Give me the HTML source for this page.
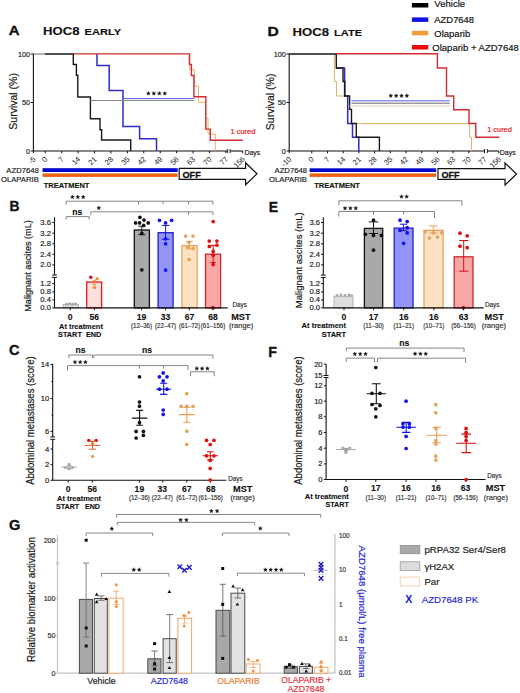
<!DOCTYPE html>
<html><head><meta charset="utf-8"><style>
html,body{margin:0;padding:0;background:#fff;}
svg{display:block;font-family:"Liberation Sans",sans-serif;}
</style></head><body>
<svg width="520" height="693" viewBox="0 0 520 693">
<rect width="520" height="693" fill="#fff"/>
<text x="8.8" y="35.2" font-size="13.4" text-anchor="start" font-weight="bold" textLength="10.8" lengthAdjust="spacingAndGlyphs" fill="#111" stroke="#111" stroke-width="0.35">A</text>
<text x="43" y="35.3" font-size="11.6" text-anchor="start" font-weight="bold" textLength="36.5" lengthAdjust="spacingAndGlyphs" fill="#111"  stroke="#111" stroke-width="0.12">HOC8</text>
<text x="84.5" y="35.3" font-size="9.2" text-anchor="start" font-weight="bold" textLength="36.7" lengthAdjust="spacingAndGlyphs" fill="#111"  stroke="#111" stroke-width="0.12">EARLY</text>
<line x1="33.4" y1="53.6" x2="33.4" y2="151" stroke="#111" stroke-width="1.1"/>
<line x1="30.799999999999997" y1="54" x2="33.4" y2="54" stroke="#111" stroke-width="1"/>
<text x="30.0" y="56.5" font-size="7.2" text-anchor="end" fill="#222"  stroke="#222" stroke-width="0.18">100</text>
<line x1="30.799999999999997" y1="102.5" x2="33.4" y2="102.5" stroke="#111" stroke-width="1"/>
<text x="30.0" y="105.0" font-size="7.2" text-anchor="end" fill="#222"  stroke="#222" stroke-width="0.18">50</text>
<line x1="30.799999999999997" y1="151" x2="33.4" y2="151" stroke="#111" stroke-width="1"/>
<text x="30.0" y="153.5" font-size="7.2" text-anchor="end" fill="#222"  stroke="#222" stroke-width="0.18">0</text>
<line x1="33.4" y1="151" x2="227.7" y2="151" stroke="#111" stroke-width="1.1"/>
<line x1="230.2" y1="151" x2="242.8" y2="151" stroke="#111" stroke-width="1.1"/>
<line x1="227.7" y1="149" x2="227.7" y2="153" stroke="#111" stroke-width="0.9"/>
<line x1="230.2" y1="149" x2="230.2" y2="153" stroke="#111" stroke-width="0.9"/>
<line x1="33.4" y1="151" x2="33.4" y2="153.3" stroke="#111" stroke-width="1"/>
<text font-size="7.5" fill="#222" text-anchor="end" transform="translate(36.1,159.7) rotate(-45)">-5</text>
<line x1="45.3" y1="151" x2="45.3" y2="153.3" stroke="#111" stroke-width="1"/>
<text font-size="7.5" fill="#222" text-anchor="end" transform="translate(48.0,159.7) rotate(-45)">0</text>
<line x1="61.715" y1="151" x2="61.715" y2="153.3" stroke="#111" stroke-width="1"/>
<text font-size="7.5" fill="#222" text-anchor="end" transform="translate(64.4,159.7) rotate(-45)">7</text>
<line x1="78.13" y1="151" x2="78.13" y2="153.3" stroke="#111" stroke-width="1"/>
<text font-size="7.5" fill="#222" text-anchor="end" transform="translate(80.8,159.7) rotate(-45)">14</text>
<line x1="94.545" y1="151" x2="94.545" y2="153.3" stroke="#111" stroke-width="1"/>
<text font-size="7.5" fill="#222" text-anchor="end" transform="translate(97.2,159.7) rotate(-45)">21</text>
<line x1="110.96000000000001" y1="151" x2="110.96000000000001" y2="153.3" stroke="#111" stroke-width="1"/>
<text font-size="7.5" fill="#222" text-anchor="end" transform="translate(113.7,159.7) rotate(-45)">28</text>
<line x1="127.375" y1="151" x2="127.375" y2="153.3" stroke="#111" stroke-width="1"/>
<text font-size="7.5" fill="#222" text-anchor="end" transform="translate(130.1,159.7) rotate(-45)">35</text>
<line x1="143.79000000000002" y1="151" x2="143.79000000000002" y2="153.3" stroke="#111" stroke-width="1"/>
<text font-size="7.5" fill="#222" text-anchor="end" transform="translate(146.5,159.7) rotate(-45)">42</text>
<line x1="160.205" y1="151" x2="160.205" y2="153.3" stroke="#111" stroke-width="1"/>
<text font-size="7.5" fill="#222" text-anchor="end" transform="translate(162.9,159.7) rotate(-45)">49</text>
<line x1="176.62" y1="151" x2="176.62" y2="153.3" stroke="#111" stroke-width="1"/>
<text font-size="7.5" fill="#222" text-anchor="end" transform="translate(179.3,159.7) rotate(-45)">56</text>
<line x1="193.03500000000003" y1="151" x2="193.03500000000003" y2="153.3" stroke="#111" stroke-width="1"/>
<text font-size="7.5" fill="#222" text-anchor="end" transform="translate(195.7,159.7) rotate(-45)">63</text>
<line x1="209.45" y1="151" x2="209.45" y2="153.3" stroke="#111" stroke-width="1"/>
<text font-size="7.5" fill="#222" text-anchor="end" transform="translate(212.1,159.7) rotate(-45)">70</text>
<line x1="225.865" y1="151" x2="225.865" y2="153.3" stroke="#111" stroke-width="1"/>
<text font-size="7.5" fill="#222" text-anchor="end" transform="translate(228.6,159.7) rotate(-45)">77</text>
<line x1="242.8" y1="151" x2="242.8" y2="153.3" stroke="#111" stroke-width="1"/>
<text font-size="7.5" fill="#222" text-anchor="end" transform="translate(245.5,159.7) rotate(-45)">156</text>
<text x="244.4" y="154.8" font-size="7" text-anchor="start" fill="#222"  stroke="#222" stroke-width="0.18">Days</text>
<text font-size="10.5" fill="#1a1a1a" stroke="#1a1a1a" stroke-width="0.2" text-anchor="middle" transform="translate(17.4,101.4) rotate(-90)">Survival (%)</text>
<path d="M33.4,54 H45" stroke="#8a8a8a" stroke-width="1.3" fill="none" />
<path d="M45,54 H73.3 V64.5 H76.4 V75.3 H77.8 V97 H90.4 V118.8 H100 V129.7 H101.6 V140 H130.7 V151" stroke="#1a1a1a" stroke-width="1.4" fill="none" />
<path d="M97,54 V65.4 H109.2 V90.5 H123 V126.5 H139.6 V138.8 H156.5 V151" stroke="#2c2cc8" stroke-width="1.5" fill="none" />
<path d="M90.4,100.5 H194.5" stroke="#8a8a8a" stroke-width="1" fill="none" />
<path d="M123.5,98.6 H194.5" stroke="#5a5af0" stroke-width="1" fill="none" />
<path d="M189.8,54 V69.7 H194.4 V86 H198.5 V102.3 H205.5 V118.2 H208 V134 H215.2 V151" stroke="#e2b066" stroke-width="1" fill="none" />
<path d="M73.3,53.9 H189.4 V64.4 H191.4 V75.5 H193.9 V96.7 H205.8 V129.1 H210.3 V140.3 H242.8" stroke="#d42a32" stroke-width="1.4" fill="none" />
<polygon points="148.39,91.40 148.95,92.68 150.34,92.82 149.30,93.74 149.60,95.11 148.39,94.40 147.19,95.11 147.49,93.74 146.45,92.82 147.84,92.68" fill="#151515" stroke="#151515" stroke-width="0.35" stroke-linejoin="round"/>
<polygon points="153.86,91.40 154.42,92.68 155.81,92.82 154.77,93.74 155.07,95.11 153.86,94.40 152.66,95.11 152.96,93.74 151.92,92.82 153.31,92.68" fill="#151515" stroke="#151515" stroke-width="0.35" stroke-linejoin="round"/>
<polygon points="159.33,91.40 159.89,92.68 161.28,92.82 160.24,93.74 160.54,95.11 159.33,94.40 158.13,95.11 158.43,93.74 157.39,92.82 158.78,92.68" fill="#151515" stroke="#151515" stroke-width="0.35" stroke-linejoin="round"/>
<polygon points="164.80,91.40 165.36,92.68 166.75,92.82 165.71,93.74 166.01,95.11 164.80,94.40 163.60,95.11 163.90,93.74 162.86,92.82 164.25,92.68" fill="#151515" stroke="#151515" stroke-width="0.35" stroke-linejoin="round"/>
<text x="230.4" y="133.8" font-size="7.5" text-anchor="start" fill="#e81818"  stroke="#e81818" stroke-width="0.18">1 cured</text>
<rect x="42.5" y="168.2" width="135.2" height="3.8" fill="#0505cc"/>
<rect x="42.5" y="173.4" width="135.2" height="3.5" fill="#e8620f"/>
<text x="38.8" y="173.3" font-size="7.7" text-anchor="end" fill="#222"  stroke="#222" stroke-width="0.18">AZD7648</text>
<text x="38.8" y="181.5" font-size="7.7" text-anchor="end" fill="#222"  stroke="#222" stroke-width="0.18">OLAPARIB</text>
<text x="43.7" y="188.3" font-size="7.5" text-anchor="start" font-weight="bold" fill="#111"  stroke="#111" stroke-width="0.12">TREATMENT</text>
<path d="M179.2,168.4 H245.6 V162.7 L257,173.8 L245.6,184.8 V179.4 H179.2 Z" stroke="#111" stroke-width="1.2" fill="#fff" />
<text x="182.4" y="178.4" font-size="9.9" text-anchor="start" font-weight="bold" textLength="18.4" lengthAdjust="spacingAndGlyphs" fill="#111" stroke="#111" stroke-width="0.3">OFF</text>
<text x="267.4" y="35.9" font-size="13.4" text-anchor="start" font-weight="bold" textLength="11.3" lengthAdjust="spacingAndGlyphs" fill="#111" stroke="#111" stroke-width="0.35">D</text>
<text x="292.5" y="35.9" font-size="11.6" text-anchor="start" font-weight="bold" textLength="36.5" lengthAdjust="spacingAndGlyphs" fill="#111"  stroke="#111" stroke-width="0.12">HOC8</text>
<text x="334" y="35.9" font-size="9.2" text-anchor="start" font-weight="bold" textLength="28" lengthAdjust="spacingAndGlyphs" fill="#111"  stroke="#111" stroke-width="0.12">LATE</text>
<line x1="289.2" y1="53.6" x2="289.2" y2="151" stroke="#111" stroke-width="1.1"/>
<line x1="286.59999999999997" y1="54" x2="289.2" y2="54" stroke="#111" stroke-width="1"/>
<text x="285.8" y="56.5" font-size="7.2" text-anchor="end" fill="#222"  stroke="#222" stroke-width="0.18">100</text>
<line x1="286.59999999999997" y1="102.5" x2="289.2" y2="102.5" stroke="#111" stroke-width="1"/>
<text x="285.8" y="105.0" font-size="7.2" text-anchor="end" fill="#222"  stroke="#222" stroke-width="0.18">50</text>
<line x1="286.59999999999997" y1="151" x2="289.2" y2="151" stroke="#111" stroke-width="1"/>
<text x="285.8" y="153.5" font-size="7.2" text-anchor="end" fill="#222"  stroke="#222" stroke-width="0.18">0</text>
<line x1="289.2" y1="151" x2="484.5" y2="151" stroke="#111" stroke-width="1.1"/>
<line x1="487.3" y1="151" x2="498.8" y2="151" stroke="#111" stroke-width="1.1"/>
<line x1="484.5" y1="149" x2="484.5" y2="153" stroke="#111" stroke-width="0.9"/>
<line x1="487.3" y1="149" x2="487.3" y2="153" stroke="#111" stroke-width="0.9"/>
<line x1="289.2" y1="151" x2="289.2" y2="153.3" stroke="#111" stroke-width="1"/>
<text font-size="7.5" fill="#222" text-anchor="end" transform="translate(291.9,159.7) rotate(-45)">-10</text>
<line x1="311.8" y1="151" x2="311.8" y2="153.3" stroke="#111" stroke-width="1"/>
<text font-size="7.5" fill="#222" text-anchor="end" transform="translate(314.5,159.7) rotate(-45)">0</text>
<line x1="327.50100000000003" y1="151" x2="327.50100000000003" y2="153.3" stroke="#111" stroke-width="1"/>
<text font-size="7.5" fill="#222" text-anchor="end" transform="translate(330.2,159.7) rotate(-45)">7</text>
<line x1="343.202" y1="151" x2="343.202" y2="153.3" stroke="#111" stroke-width="1"/>
<text font-size="7.5" fill="#222" text-anchor="end" transform="translate(345.9,159.7) rotate(-45)">14</text>
<line x1="358.903" y1="151" x2="358.903" y2="153.3" stroke="#111" stroke-width="1"/>
<text font-size="7.5" fill="#222" text-anchor="end" transform="translate(361.6,159.7) rotate(-45)">21</text>
<line x1="374.604" y1="151" x2="374.604" y2="153.3" stroke="#111" stroke-width="1"/>
<text font-size="7.5" fill="#222" text-anchor="end" transform="translate(377.3,159.7) rotate(-45)">28</text>
<line x1="390.305" y1="151" x2="390.305" y2="153.3" stroke="#111" stroke-width="1"/>
<text font-size="7.5" fill="#222" text-anchor="end" transform="translate(393.0,159.7) rotate(-45)">35</text>
<line x1="406.006" y1="151" x2="406.006" y2="153.3" stroke="#111" stroke-width="1"/>
<text font-size="7.5" fill="#222" text-anchor="end" transform="translate(408.7,159.7) rotate(-45)">42</text>
<line x1="421.707" y1="151" x2="421.707" y2="153.3" stroke="#111" stroke-width="1"/>
<text font-size="7.5" fill="#222" text-anchor="end" transform="translate(424.4,159.7) rotate(-45)">49</text>
<line x1="437.408" y1="151" x2="437.408" y2="153.3" stroke="#111" stroke-width="1"/>
<text font-size="7.5" fill="#222" text-anchor="end" transform="translate(440.1,159.7) rotate(-45)">56</text>
<line x1="453.10900000000004" y1="151" x2="453.10900000000004" y2="153.3" stroke="#111" stroke-width="1"/>
<text font-size="7.5" fill="#222" text-anchor="end" transform="translate(455.8,159.7) rotate(-45)">63</text>
<line x1="468.81" y1="151" x2="468.81" y2="153.3" stroke="#111" stroke-width="1"/>
<text font-size="7.5" fill="#222" text-anchor="end" transform="translate(471.5,159.7) rotate(-45)">70</text>
<line x1="484.51099999999997" y1="151" x2="484.51099999999997" y2="153.3" stroke="#111" stroke-width="1"/>
<text font-size="7.5" fill="#222" text-anchor="end" transform="translate(487.2,159.7) rotate(-45)">77</text>
<line x1="498.8" y1="151" x2="498.8" y2="153.3" stroke="#111" stroke-width="1"/>
<text font-size="7.5" fill="#222" text-anchor="end" transform="translate(501.5,159.7) rotate(-45)">156</text>
<text x="499.8" y="154.8" font-size="7" text-anchor="start" fill="#222"  stroke="#222" stroke-width="0.18">Days</text>
<text font-size="10.5" fill="#1a1a1a" stroke="#1a1a1a" stroke-width="0.2" text-anchor="middle" transform="translate(274.4,101.9) rotate(-90)">Survival (%)</text>
<rect x="411.9" y="3.0" width="16.4" height="4.5" fill="#000"/>
<rect x="411.9" y="17.400000000000002" width="16.4" height="4.5" fill="#1212e6"/>
<rect x="411.9" y="30.8" width="16.4" height="4.5" fill="#f39a3c"/>
<rect x="411.9" y="45.0" width="16.4" height="4.5" fill="#ec0a0a"/>
<text x="434.3" y="7.0" font-size="9.5" text-anchor="start" textLength="30.8" lengthAdjust="spacingAndGlyphs" fill="#111"  stroke="#111" stroke-width="0.18">Vehicle</text>
<text x="434.3" y="22.8" font-size="9.5" text-anchor="start" textLength="39.8" lengthAdjust="spacingAndGlyphs" fill="#111"  stroke="#111" stroke-width="0.18">AZD7648</text>
<text x="434.3" y="36.6" font-size="9.5" text-anchor="start" fill="#111"  stroke="#111" stroke-width="0.18">Olaparib</text>
<text x="432.3" y="50.6" font-size="9.5" text-anchor="start" textLength="86.5" lengthAdjust="spacingAndGlyphs" fill="#111"  stroke="#111" stroke-width="0.18">Olaparib + AZD7648</text>
<path d="M334.4,54 V81.5 H336.5 V96 H347.5 V123.5 H469.6 V137.3 H471.5 V151" stroke="#e2b066" stroke-width="1" fill="none" />
<path d="M336,68 H344.6 V96 H347.7 V123.5 H352.5 V137.3 H358.8 V151" stroke="#2c2cc8" stroke-width="1.5" fill="none" />
<path d="M289.2,54 H336.3 V68 H343 V81.5 H344.8 V96 H349.6 V109.4 H351.5 V123.5 H356.3 V137.3 H379.4 V151" stroke="#1a1a1a" stroke-width="1.4" fill="none" />
<path d="M351.5,100.8 H449.8" stroke="#5a5af0" stroke-width="1" fill="none" />
<path d="M351.5,103.2 H449.8" stroke="#6a6a6a" stroke-width="1" fill="none" />
<path d="M349,106 H449.8" stroke="#ecc89a" stroke-width="0.9" fill="none" />
<path d="M336.3,53.8 H437.4 V68 H446.5 V96 H453.7 V109.8 H469 V123.5 H475.8 V137.3 H499.2" stroke="#d42a32" stroke-width="1.4" fill="none" />
<polygon points="390.80,93.70 391.35,94.98 392.74,95.12 391.70,96.04 392.00,97.41 390.80,96.70 389.59,97.41 389.89,96.04 388.85,95.12 390.24,94.98" fill="#151515" stroke="#151515" stroke-width="0.35" stroke-linejoin="round"/>
<polygon points="396.17,93.70 396.72,94.98 398.11,95.12 397.07,96.04 397.37,97.41 396.17,96.70 394.96,97.41 395.26,96.04 394.22,95.12 395.61,94.98" fill="#151515" stroke="#151515" stroke-width="0.35" stroke-linejoin="round"/>
<polygon points="401.54,93.70 402.09,94.98 403.48,95.12 402.44,96.04 402.74,97.41 401.54,96.70 400.33,97.41 400.63,96.04 399.59,95.12 400.98,94.98" fill="#151515" stroke="#151515" stroke-width="0.35" stroke-linejoin="round"/>
<polygon points="406.91,93.70 407.46,94.98 408.85,95.12 407.81,96.04 408.11,97.41 406.91,96.70 405.70,97.41 406.00,96.04 404.96,95.12 406.35,94.98" fill="#151515" stroke="#151515" stroke-width="0.35" stroke-linejoin="round"/>
<text x="487.2" y="132.3" font-size="7.4" text-anchor="start" fill="#e81818"  stroke="#e81818" stroke-width="0.18">1 cured</text>
<rect x="309.6" y="168.3" width="126.6" height="3.7" fill="#0505cc"/>
<rect x="309.6" y="173.4" width="126.6" height="3.5" fill="#e8620f"/>
<text x="307" y="173" font-size="7.7" text-anchor="end" fill="#222"  stroke="#222" stroke-width="0.18">AZD7648</text>
<text x="307" y="181.6" font-size="7.7" text-anchor="end" fill="#222"  stroke="#222" stroke-width="0.18">OLAPARIB</text>
<text x="314.2" y="188" font-size="7.5" text-anchor="start" font-weight="bold" fill="#111"  stroke="#111" stroke-width="0.12">TREATMENT</text>
<path d="M438,168.6 H505 V163 L516.6,174 L505,185 V179.4 H438 Z" stroke="#111" stroke-width="1.2" fill="#fff" />
<text x="441.4" y="177.9" font-size="9.7" text-anchor="start" font-weight="bold" textLength="18.2" lengthAdjust="spacingAndGlyphs" fill="#111" stroke="#111" stroke-width="0.3">OFF</text>
<text x="9.5" y="210.6" font-size="14" text-anchor="start" font-weight="bold" textLength="10" lengthAdjust="spacingAndGlyphs" fill="#111" stroke="#111" stroke-width="0.35">B</text>
<path d="M66.2,204.7 V201.2 H212.9 V204.7 M138.5,201.2 V204.2 M163.1,201.2 V204.2 M188.6,201.2 V204.2" stroke="#777" stroke-width="0.9" fill="none" />
<polygon points="72.40,195.00 72.96,196.28 74.35,196.42 73.30,197.34 73.60,198.71 72.40,198.00 71.20,198.71 71.50,197.34 70.45,196.42 71.84,196.28" fill="#151515" stroke="#151515" stroke-width="0.35" stroke-linejoin="round"/>
<polygon points="77.80,195.00 78.36,196.28 79.75,196.42 78.70,197.34 79.00,198.71 77.80,198.00 76.60,198.71 76.90,197.34 75.85,196.42 77.24,196.28" fill="#151515" stroke="#151515" stroke-width="0.35" stroke-linejoin="round"/>
<polygon points="83.20,195.00 83.76,196.28 85.15,196.42 84.10,197.34 84.40,198.71 83.20,198.00 82.00,198.71 82.30,197.34 81.25,196.42 82.64,196.28" fill="#151515" stroke="#151515" stroke-width="0.35" stroke-linejoin="round"/>
<path d="M66.2,219.6 V216.6 H89.2 V219.6" stroke="#777" stroke-width="0.9" fill="none" />
<text x="77.2" y="214.6" font-size="8.6" text-anchor="middle" font-weight="bold" fill="#111"  stroke="#111" stroke-width="0.12">ns</text>
<path d="M90.8,215.10000000000002 V211.8 H212.9 V215.10000000000002 M188.6,211.8 V214.8" stroke="#777" stroke-width="0.9" fill="none" />
<polygon points="98.80,206.00 99.36,207.28 100.75,207.42 99.70,208.34 100.00,209.71 98.80,209.00 97.60,209.71 97.90,208.34 96.85,207.42 98.24,207.28" fill="#151515" stroke="#151515" stroke-width="0.35" stroke-linejoin="round"/>
<rect x="63.3" y="304.5" width="15.200000000000003" height="3.3999999999999773" fill="#dedede" stroke="#b5b5b5" stroke-width="1"/>
<circle cx="66.5" cy="304.3" r="1.5" fill="#a8a8a8"/>
<circle cx="69.5" cy="303.8" r="1.5" fill="#a8a8a8"/>
<circle cx="72.5" cy="304.3" r="1.5" fill="#a8a8a8"/>
<circle cx="75.5" cy="303.8" r="1.5" fill="#a8a8a8"/>
<rect x="86.7" y="282" width="14.899999999999991" height="25.899999999999977" fill="#fde0e0" stroke="#e81818" stroke-width="1.3"/>
<path d="M94.4,280.3 V284.5 M92.65,280.3 H96.15 M92.65,284.5 H96.15" stroke="#ee8833" stroke-width="0.9" fill="none" />
<circle cx="90.8" cy="277.2" r="1.8" fill="#dd1111"/>
<circle cx="97.1" cy="278.8" r="1.7" fill="#ee8d3a"/>
<circle cx="94.4" cy="287.4" r="1.7" fill="#ee8d3a"/>
<rect x="134.3" y="230" width="15.099999999999994" height="77.89999999999998" fill="#a9a9a9" stroke="#111" stroke-width="1.3"/>
<rect x="158.1" y="232.7" width="15.0" height="75.19999999999999" fill="#9494f6" stroke="#2020cc" stroke-width="1.3"/>
<rect x="181.9" y="245.6" width="15.299999999999983" height="62.29999999999998" fill="#fde2c6" stroke="#e6a45e" stroke-width="1.3"/>
<rect x="205.5" y="254.2" width="15.099999999999994" height="53.69999999999999" fill="#f9a6a6" stroke="#c82828" stroke-width="1.3"/>
<path d="M141.8,226.2 V234.7 M138.3,226.2 H145.3 M138.3,234.7 H145.3" stroke="#111" stroke-width="1.0" fill="none" />
<circle cx="139.9" cy="217.3" r="1.85" fill="#111"/>
<circle cx="144" cy="220.1" r="1.85" fill="#111"/>
<circle cx="135.6" cy="222.9" r="1.85" fill="#111"/>
<circle cx="139.6" cy="222.9" r="1.85" fill="#111"/>
<circle cx="148.2" cy="222.9" r="1.85" fill="#111"/>
<circle cx="143.7" cy="225.4" r="1.85" fill="#111"/>
<circle cx="141.8" cy="233.4" r="1.85" fill="#111"/>
<circle cx="141.8" cy="269.8" r="1.85" fill="#111"/>
<path d="M165.6,225.4 V239.3 M161.79999999999998,225.4 H169.4 M161.79999999999998,239.3 H169.4" stroke="#1212e6" stroke-width="1.0" fill="none" />
<circle cx="159.5" cy="220.3" r="1.85" fill="#1212e6"/>
<circle cx="171.6" cy="220.3" r="1.85" fill="#1212e6"/>
<circle cx="165.6" cy="222.9" r="1.85" fill="#1212e6"/>
<circle cx="165.6" cy="238.8" r="1.85" fill="#1212e6"/>
<circle cx="165.6" cy="243.8" r="1.85" fill="#1212e6"/>
<circle cx="165.6" cy="270.1" r="1.85" fill="#1212e6"/>
<path d="M189.4,241.5 V249 M186.1,241.5 H192.70000000000002 M186.1,249 H192.70000000000002" stroke="#f0a050" stroke-width="1.0" fill="none" />
<circle cx="185.6" cy="236.1" r="1.85" fill="#e3a55e"/>
<circle cx="193" cy="236.1" r="1.85" fill="#e3a55e"/>
<circle cx="188.9" cy="242.3" r="1.85" fill="#e3a55e"/>
<circle cx="187.6" cy="246.9" r="1.85" fill="#e3a55e"/>
<circle cx="193.2" cy="248.4" r="1.85" fill="#e3a55e"/>
<circle cx="189.1" cy="259.5" r="1.85" fill="#e3a55e"/>
<path d="M213.2,245.4 V262.5 M210.5,245.4 H215.89999999999998 M210.5,262.5 H215.89999999999998" stroke="#dd1111" stroke-width="1.0" fill="none" />
<circle cx="213.2" cy="221.6" r="1.85" fill="#dd1111"/>
<circle cx="209.3" cy="241.1" r="1.85" fill="#dd1111"/>
<circle cx="216.9" cy="241.1" r="1.85" fill="#dd1111"/>
<circle cx="209.3" cy="246.4" r="1.85" fill="#dd1111"/>
<circle cx="216.9" cy="245.2" r="1.85" fill="#dd1111"/>
<circle cx="213.2" cy="251.4" r="1.85" fill="#dd1111"/>
<circle cx="213.2" cy="255.3" r="1.85" fill="#dd1111"/>
<circle cx="213.2" cy="264.5" r="1.85" fill="#dd1111"/>
<circle cx="212.9" cy="307.7" r="1.85" fill="#dd1111"/>
<line x1="54.5" y1="217.3" x2="54.5" y2="275.1" stroke="#111" stroke-width="1.1"/>
<line x1="54.5" y1="277.4" x2="54.5" y2="307.9" stroke="#111" stroke-width="1.1"/>
<path d="M52.1,275.1 H56.9 M52.1,277.4 H56.9" stroke="#111" stroke-width="1" fill="none" />
<line x1="52.3" y1="222.5" x2="54.5" y2="222.5" stroke="#111" stroke-width="1"/>
<text x="50.9" y="225.0" font-size="7.6" text-anchor="end" fill="#222"  stroke="#222" stroke-width="0.18">3.6</text>
<line x1="52.3" y1="233.2" x2="54.5" y2="233.2" stroke="#111" stroke-width="1"/>
<text x="50.9" y="235.7" font-size="7.6" text-anchor="end" fill="#222"  stroke="#222" stroke-width="0.18">3.2</text>
<line x1="52.3" y1="243.8" x2="54.5" y2="243.8" stroke="#111" stroke-width="1"/>
<text x="50.9" y="246.3" font-size="7.6" text-anchor="end" fill="#222"  stroke="#222" stroke-width="0.18">2.8</text>
<line x1="52.3" y1="254.3" x2="54.5" y2="254.3" stroke="#111" stroke-width="1"/>
<text x="50.9" y="256.8" font-size="7.6" text-anchor="end" fill="#222"  stroke="#222" stroke-width="0.18">2.4</text>
<line x1="52.3" y1="264.9" x2="54.5" y2="264.9" stroke="#111" stroke-width="1"/>
<text x="50.9" y="267.4" font-size="7.6" text-anchor="end" fill="#222"  stroke="#222" stroke-width="0.18">2.0</text>
<line x1="52.3" y1="283.6" x2="54.5" y2="283.6" stroke="#111" stroke-width="1"/>
<text x="50.9" y="286.1" font-size="7.6" text-anchor="end" fill="#222"  stroke="#222" stroke-width="0.18">1.2</text>
<line x1="52.3" y1="291.9" x2="54.5" y2="291.9" stroke="#111" stroke-width="1"/>
<text x="50.9" y="294.4" font-size="7.6" text-anchor="end" fill="#222"  stroke="#222" stroke-width="0.18">0.8</text>
<line x1="52.3" y1="299.9" x2="54.5" y2="299.9" stroke="#111" stroke-width="1"/>
<text x="50.9" y="302.4" font-size="7.6" text-anchor="end" fill="#222"  stroke="#222" stroke-width="0.18">0.4</text>
<line x1="52.3" y1="307.9" x2="54.5" y2="307.9" stroke="#111" stroke-width="1"/>
<text x="50.9" y="310.4" font-size="7.6" text-anchor="end" fill="#222"  stroke="#222" stroke-width="0.18">0.0</text>
<line x1="54.5" y1="307.9" x2="227.7" y2="307.9" stroke="#111" stroke-width="1.1"/>
<line x1="70.3" y1="307.9" x2="70.3" y2="310.2" stroke="#111" stroke-width="1"/>
<line x1="94.4" y1="307.9" x2="94.4" y2="310.2" stroke="#111" stroke-width="1"/>
<line x1="141.5" y1="307.9" x2="141.5" y2="310.2" stroke="#111" stroke-width="1"/>
<line x1="165.6" y1="307.9" x2="165.6" y2="310.2" stroke="#111" stroke-width="1"/>
<line x1="189.3" y1="307.9" x2="189.3" y2="310.2" stroke="#111" stroke-width="1"/>
<line x1="213.1" y1="307.9" x2="213.1" y2="310.2" stroke="#111" stroke-width="1"/>
<text font-size="9.3" fill="#1a1a1a" stroke="#1a1a1a" stroke-width="0.2" text-anchor="middle" transform="translate(30.6,266) rotate(-90)" textLength="91.5" lengthAdjust="spacingAndGlyphs">Malignant ascites (mL)</text>
<text x="141.5" y="319.9" font-size="8.6" text-anchor="middle" font-weight="bold" fill="#111"  stroke="#111" stroke-width="0.12">19</text>
<text x="165.6" y="319.9" font-size="8.6" text-anchor="middle" font-weight="bold" fill="#111"  stroke="#111" stroke-width="0.12">33</text>
<text x="189.5" y="319.9" font-size="8.6" text-anchor="middle" font-weight="bold" fill="#111"  stroke="#111" stroke-width="0.12">67</text>
<text x="213" y="319.9" font-size="8.6" text-anchor="middle" font-weight="bold" fill="#111"  stroke="#111" stroke-width="0.12">68</text>
<text x="141.5" y="327.79999999999995" font-size="7.0" text-anchor="middle" textLength="21.03" lengthAdjust="spacingAndGlyphs" fill="#333"  stroke="#333" stroke-width="0.18">(12&#8211;36)</text>
<text x="165.6" y="327.79999999999995" font-size="7.0" text-anchor="middle" textLength="21.03" lengthAdjust="spacingAndGlyphs" fill="#333"  stroke="#333" stroke-width="0.18">(22&#8211;47)</text>
<text x="189.5" y="327.79999999999995" font-size="7.0" text-anchor="middle" textLength="21.03" lengthAdjust="spacingAndGlyphs" fill="#333"  stroke="#333" stroke-width="0.18">(61&#8211;72)</text>
<text x="213" y="327.79999999999995" font-size="7.0" text-anchor="middle" textLength="24.42" lengthAdjust="spacingAndGlyphs" fill="#333"  stroke="#333" stroke-width="0.18">(61&#8211;156)</text>
<text x="231.2" y="319.9" font-size="8.6" text-anchor="start" font-weight="bold" textLength="19.4" lengthAdjust="spacingAndGlyphs" fill="#111"  stroke="#111" stroke-width="0.12">MST</text>
<text x="229" y="327.7" font-size="7.4" text-anchor="start" textLength="24.3" lengthAdjust="spacingAndGlyphs" fill="#333"  stroke="#333" stroke-width="0.18">(range)</text>
<text x="232.5" y="306.7" font-size="6.3" text-anchor="start" fill="#333"  stroke="#333" stroke-width="0.18">Days</text>
<text x="70.2" y="320" font-size="8.6" text-anchor="middle" font-weight="bold" fill="#111"  stroke="#111" stroke-width="0.12">0</text>
<text x="94.2" y="320" font-size="8.6" text-anchor="middle" font-weight="bold" fill="#111"  stroke="#111" stroke-width="0.12">56</text>
<text x="81" y="328.8" font-size="7.5" text-anchor="middle" font-weight="bold" textLength="43.8" lengthAdjust="spacingAndGlyphs" fill="#111"  stroke="#111" stroke-width="0.12">At treatment</text>
<text x="79.7" y="337.3" font-size="7.5" text-anchor="middle" font-weight="bold" textLength="43.4" lengthAdjust="spacingAndGlyphs" fill="#111"  stroke="#111" stroke-width="0.12">START&#160;&#160;END</text>
<text x="268.7" y="212.4" font-size="14" text-anchor="start" font-weight="bold" textLength="9.3" lengthAdjust="spacingAndGlyphs" fill="#111" stroke="#111" stroke-width="0.35">E</text>
<path d="M338.8,205.3 V200.8 H461.9 V205.8" stroke="#777" stroke-width="0.9" fill="none" />
<polygon points="401.50,194.60 402.06,195.88 403.45,196.02 402.40,196.94 402.70,198.31 401.50,197.60 400.30,198.31 400.60,196.94 399.55,196.02 400.94,195.88" fill="#151515" stroke="#151515" stroke-width="0.35" stroke-linejoin="round"/>
<polygon points="406.70,194.60 407.26,195.88 408.65,196.02 407.60,196.94 407.90,198.31 406.70,197.60 405.50,198.31 405.80,196.94 404.75,196.02 406.14,195.88" fill="#151515" stroke="#151515" stroke-width="0.35" stroke-linejoin="round"/>
<path d="M338.8,216.5 V211.5 H434.5 V218.0 M373.5,211.5 V214.5 M403.6,211.5 V214.5" stroke="#777" stroke-width="0.9" fill="none" />
<polygon points="345.00,206.20 345.56,207.48 346.95,207.62 345.90,208.54 346.20,209.91 345.00,209.20 343.80,209.91 344.10,208.54 343.05,207.62 344.44,207.48" fill="#151515" stroke="#151515" stroke-width="0.35" stroke-linejoin="round"/>
<polygon points="350.40,206.20 350.96,207.48 352.35,207.62 351.30,208.54 351.60,209.91 350.40,209.20 349.20,209.91 349.50,208.54 348.45,207.62 349.84,207.48" fill="#151515" stroke="#151515" stroke-width="0.35" stroke-linejoin="round"/>
<polygon points="355.80,206.20 356.36,207.48 357.75,207.62 356.70,208.54 357.00,209.91 355.80,209.20 354.60,209.91 354.90,208.54 353.85,207.62 355.24,207.48" fill="#151515" stroke="#151515" stroke-width="0.35" stroke-linejoin="round"/>
<rect x="334" y="296.4" width="19" height="11.5" fill="#dedede" stroke="#b5b5b5" stroke-width="1"/>
<circle cx="337" cy="295.5" r="1.4" fill="#a8a8a8"/>
<circle cx="341" cy="295" r="1.4" fill="#a8a8a8"/>
<circle cx="345" cy="295.5" r="1.4" fill="#a8a8a8"/>
<circle cx="349" cy="295" r="1.4" fill="#a8a8a8"/>
<circle cx="351.5" cy="295.6" r="1.4" fill="#a8a8a8"/>
<rect x="364.4" y="228.4" width="18.30000000000001" height="79.49999999999997" fill="#a9a9a9" stroke="#111" stroke-width="1.3"/>
<rect x="394.2" y="228.1" width="18.80000000000001" height="79.79999999999998" fill="#9494f6" stroke="#2020cc" stroke-width="1.3"/>
<rect x="424" y="230.4" width="19.100000000000023" height="77.49999999999997" fill="#fde2c6" stroke="#e6a45e" stroke-width="1.3"/>
<rect x="454.2" y="256.8" width="18.80000000000001" height="51.099999999999966" fill="#f9a6a6" stroke="#c82828" stroke-width="1.3"/>
<path d="M373.5,221.9 V233.5 M368.8,221.9 H378.2 M368.8,233.5 H378.2" stroke="#111" stroke-width="1.0" fill="none" />
<circle cx="373.5" cy="220.2" r="1.85" fill="#111"/>
<circle cx="365.4" cy="234.3" r="1.85" fill="#111"/>
<circle cx="373.5" cy="235.4" r="1.85" fill="#111"/>
<circle cx="381.4" cy="235.4" r="1.85" fill="#111"/>
<circle cx="373.5" cy="250.2" r="1.85" fill="#111"/>
<path d="M403.4,224.2 V230.6 M399.75,224.2 H407.04999999999995 M399.75,230.6 H407.04999999999995" stroke="#1212e6" stroke-width="1.0" fill="none" />
<circle cx="400" cy="220.2" r="1.85" fill="#1212e6"/>
<circle cx="407.2" cy="221.6" r="1.85" fill="#1212e6"/>
<circle cx="400" cy="230.3" r="1.85" fill="#1212e6"/>
<circle cx="407.2" cy="227.7" r="1.85" fill="#1212e6"/>
<circle cx="407.2" cy="232.9" r="1.85" fill="#1212e6"/>
<circle cx="403.6" cy="243.3" r="1.85" fill="#1212e6"/>
<path d="M433.3,226 V233 M428.75,226 H437.85 M428.75,233 H437.85" stroke="#f0a050" stroke-width="1.0" fill="none" />
<circle cx="425.1" cy="231.8" r="1.85" fill="#e3a55e"/>
<circle cx="433.5" cy="232.8" r="1.85" fill="#e3a55e"/>
<circle cx="441.7" cy="232.8" r="1.85" fill="#e3a55e"/>
<circle cx="429.4" cy="238" r="1.85" fill="#e3a55e"/>
<circle cx="437.4" cy="237.1" r="1.85" fill="#e3a55e"/>
<path d="M463.7,240.5 V271.2 M459.0,240.5 H468.4 M459.0,271.2 H468.4" stroke="#dd1111" stroke-width="1.0" fill="none" />
<circle cx="460" cy="233.2" r="1.85" fill="#dd1111"/>
<circle cx="467.2" cy="235.8" r="1.85" fill="#dd1111"/>
<circle cx="460" cy="246.2" r="1.85" fill="#dd1111"/>
<circle cx="467.2" cy="247.7" r="1.85" fill="#dd1111"/>
<circle cx="463.5" cy="307.7" r="1.85" fill="#dd1111"/>
<line x1="323.3" y1="217.3" x2="323.3" y2="275.1" stroke="#111" stroke-width="1.1"/>
<line x1="323.3" y1="277.4" x2="323.3" y2="307.9" stroke="#111" stroke-width="1.1"/>
<path d="M320.90000000000003,275.1 H325.7 M320.90000000000003,277.4 H325.7" stroke="#111" stroke-width="1" fill="none" />
<line x1="321.1" y1="222.5" x2="323.3" y2="222.5" stroke="#111" stroke-width="1"/>
<text x="320.1" y="225.0" font-size="7.6" text-anchor="end" fill="#222"  stroke="#222" stroke-width="0.18">3.6</text>
<line x1="321.1" y1="233.2" x2="323.3" y2="233.2" stroke="#111" stroke-width="1"/>
<text x="320.1" y="235.7" font-size="7.6" text-anchor="end" fill="#222"  stroke="#222" stroke-width="0.18">3.2</text>
<line x1="321.1" y1="243.8" x2="323.3" y2="243.8" stroke="#111" stroke-width="1"/>
<text x="320.1" y="246.3" font-size="7.6" text-anchor="end" fill="#222"  stroke="#222" stroke-width="0.18">2.8</text>
<line x1="321.1" y1="254.3" x2="323.3" y2="254.3" stroke="#111" stroke-width="1"/>
<text x="320.1" y="256.8" font-size="7.6" text-anchor="end" fill="#222"  stroke="#222" stroke-width="0.18">2.4</text>
<line x1="321.1" y1="264.9" x2="323.3" y2="264.9" stroke="#111" stroke-width="1"/>
<text x="320.1" y="267.4" font-size="7.6" text-anchor="end" fill="#222"  stroke="#222" stroke-width="0.18">2.0</text>
<line x1="321.1" y1="283.6" x2="323.3" y2="283.6" stroke="#111" stroke-width="1"/>
<text x="320.1" y="286.1" font-size="7.6" text-anchor="end" fill="#222"  stroke="#222" stroke-width="0.18">1.2</text>
<line x1="321.1" y1="291.9" x2="323.3" y2="291.9" stroke="#111" stroke-width="1"/>
<text x="320.1" y="294.4" font-size="7.6" text-anchor="end" fill="#222"  stroke="#222" stroke-width="0.18">0.8</text>
<line x1="321.1" y1="299.9" x2="323.3" y2="299.9" stroke="#111" stroke-width="1"/>
<text x="320.1" y="302.4" font-size="7.6" text-anchor="end" fill="#222"  stroke="#222" stroke-width="0.18">0.4</text>
<line x1="321.1" y1="307.9" x2="323.3" y2="307.9" stroke="#111" stroke-width="1"/>
<text x="320.1" y="310.4" font-size="7.6" text-anchor="end" fill="#222"  stroke="#222" stroke-width="0.18">0.0</text>
<line x1="323.3" y1="307.9" x2="483.7" y2="307.9" stroke="#111" stroke-width="1.1"/>
<line x1="344" y1="307.9" x2="344" y2="310.2" stroke="#111" stroke-width="1"/>
<line x1="373.6" y1="307.9" x2="373.6" y2="310.2" stroke="#111" stroke-width="1"/>
<line x1="403.7" y1="307.9" x2="403.7" y2="310.2" stroke="#111" stroke-width="1"/>
<line x1="433.8" y1="307.9" x2="433.8" y2="310.2" stroke="#111" stroke-width="1"/>
<line x1="463.5" y1="307.9" x2="463.5" y2="310.2" stroke="#111" stroke-width="1"/>
<text font-size="9.5" fill="#1a1a1a" stroke="#1a1a1a" stroke-width="0.2" text-anchor="middle" transform="translate(301.8,260.3) rotate(-90)" textLength="96" lengthAdjust="spacingAndGlyphs">Malignant ascites (mL)</text>
<text x="373.6" y="319.7" font-size="8.6" text-anchor="middle" font-weight="bold" fill="#111"  stroke="#111" stroke-width="0.12">17</text>
<text x="403.7" y="319.7" font-size="8.6" text-anchor="middle" font-weight="bold" fill="#111"  stroke="#111" stroke-width="0.12">16</text>
<text x="433.8" y="319.7" font-size="8.6" text-anchor="middle" font-weight="bold" fill="#111"  stroke="#111" stroke-width="0.12">16</text>
<text x="463.5" y="319.7" font-size="8.6" text-anchor="middle" font-weight="bold" fill="#111"  stroke="#111" stroke-width="0.12">63</text>
<text x="373.6" y="328.0" font-size="7.0" text-anchor="middle" textLength="20.57" lengthAdjust="spacingAndGlyphs" fill="#333"  stroke="#333" stroke-width="0.18">(11&#8211;30)</text>
<text x="403.7" y="328.0" font-size="7.0" text-anchor="middle" textLength="20.57" lengthAdjust="spacingAndGlyphs" fill="#333"  stroke="#333" stroke-width="0.18">(11&#8211;21)</text>
<text x="433.8" y="328.0" font-size="7.0" text-anchor="middle" textLength="21.03" lengthAdjust="spacingAndGlyphs" fill="#333"  stroke="#333" stroke-width="0.18">(10&#8211;71)</text>
<text x="463.5" y="328.0" font-size="7.0" text-anchor="middle" textLength="24.42" lengthAdjust="spacingAndGlyphs" fill="#333"  stroke="#333" stroke-width="0.18">(56&#8211;156)</text>
<text x="484.5" y="319.7" font-size="8.6" text-anchor="start" font-weight="bold" textLength="19.4" lengthAdjust="spacingAndGlyphs" fill="#111"  stroke="#111" stroke-width="0.12">MST</text>
<text x="481.8" y="327.90000000000003" font-size="7.4" text-anchor="start" textLength="24.3" lengthAdjust="spacingAndGlyphs" fill="#333"  stroke="#333" stroke-width="0.18">(range)</text>
<text x="485" y="307.4" font-size="6.3" text-anchor="start" fill="#333"  stroke="#333" stroke-width="0.18">Days</text>
<text x="344" y="320" font-size="8.6" text-anchor="middle" font-weight="bold" fill="#111"  stroke="#111" stroke-width="0.12">0</text>
<text x="346" y="327.9" font-size="7.5" text-anchor="end" font-weight="bold" textLength="44.4" lengthAdjust="spacingAndGlyphs" fill="#111"  stroke="#111" stroke-width="0.12">At treatment</text>
<text x="346" y="336.5" font-size="7.5" text-anchor="end" font-weight="bold" textLength="24.3" lengthAdjust="spacingAndGlyphs" fill="#111"  stroke="#111" stroke-width="0.12">START</text>
<text x="9" y="355.4" font-size="14" text-anchor="start" font-weight="bold" textLength="10.5" lengthAdjust="spacingAndGlyphs" fill="#111" stroke="#111" stroke-width="0.35">C</text>
<path d="M68.8,358 V355 H92.5 V358" stroke="#777" stroke-width="0.9" fill="none" />
<text x="80.5" y="352.5" font-size="8.6" text-anchor="middle" font-weight="bold" fill="#111"  stroke="#111" stroke-width="0.12">ns</text>
<path d="M93.8,358 V355 H212.9 V358.8" stroke="#777" stroke-width="0.9" fill="none" />
<text x="147" y="353.2" font-size="8.6" text-anchor="middle" font-weight="bold" fill="#111"  stroke="#111" stroke-width="0.12">ns</text>
<path d="M67.5,370.6 V365.6 H188.1 V370.20000000000005 M139.4,365.6 V368.6 M163.6,365.6 V368.6" stroke="#777" stroke-width="0.9" fill="none" />
<polygon points="75.00,360.10 75.56,361.38 76.95,361.52 75.90,362.44 76.20,363.81 75.00,363.10 73.80,363.81 74.10,362.44 73.05,361.52 74.44,361.38" fill="#151515" stroke="#151515" stroke-width="0.35" stroke-linejoin="round"/>
<polygon points="80.20,360.10 80.76,361.38 82.15,361.52 81.10,362.44 81.40,363.81 80.20,363.10 79.00,363.81 79.30,362.44 78.25,361.52 79.64,361.38" fill="#151515" stroke="#151515" stroke-width="0.35" stroke-linejoin="round"/>
<polygon points="85.40,360.10 85.96,361.38 87.35,361.52 86.30,362.44 86.60,363.81 85.40,363.10 84.20,363.81 84.50,362.44 83.45,361.52 84.84,361.38" fill="#151515" stroke="#151515" stroke-width="0.35" stroke-linejoin="round"/>
<path d="M190.5,376.3 V371.8 H214.2 V376.3" stroke="#777" stroke-width="0.9" fill="none" />
<polygon points="196.80,366.50 197.36,367.78 198.75,367.92 197.70,368.84 198.00,370.21 196.80,369.50 195.60,370.21 195.90,368.84 194.85,367.92 196.24,367.78" fill="#151515" stroke="#151515" stroke-width="0.35" stroke-linejoin="round"/>
<polygon points="202.10,366.50 202.66,367.78 204.05,367.92 203.00,368.84 203.30,370.21 202.10,369.50 200.90,370.21 201.20,368.84 200.15,367.92 201.54,367.78" fill="#151515" stroke="#151515" stroke-width="0.35" stroke-linejoin="round"/>
<polygon points="207.40,366.50 207.96,367.78 209.35,367.92 208.30,368.84 208.60,370.21 207.40,369.50 206.20,370.21 206.50,368.84 205.45,367.92 206.84,367.78" fill="#151515" stroke="#151515" stroke-width="0.35" stroke-linejoin="round"/>
<line x1="52.7" y1="363.7" x2="52.7" y2="436.9" stroke="#111" stroke-width="1.1"/>
<line x1="52.7" y1="439.3" x2="52.7" y2="480.3" stroke="#111" stroke-width="1.1"/>
<path d="M50.300000000000004,436.9 H55.1 M50.300000000000004,439.3 H55.1" stroke="#111" stroke-width="1" fill="none" />
<line x1="50.5" y1="364.5" x2="52.7" y2="364.5" stroke="#111" stroke-width="1"/>
<text x="49.2" y="367.0" font-size="7.6" text-anchor="end" fill="#222"  stroke="#222" stroke-width="0.18">14</text>
<line x1="50.5" y1="398.5" x2="52.7" y2="398.5" stroke="#111" stroke-width="1"/>
<text x="49.2" y="401.0" font-size="7.6" text-anchor="end" fill="#222"  stroke="#222" stroke-width="0.18">10</text>
<line x1="50.5" y1="431.4" x2="52.7" y2="431.4" stroke="#111" stroke-width="1"/>
<text x="49.2" y="433.9" font-size="7.6" text-anchor="end" fill="#222"  stroke="#222" stroke-width="0.18">6</text>
<line x1="50.5" y1="449" x2="52.7" y2="449" stroke="#111" stroke-width="1"/>
<text x="49.2" y="451.5" font-size="7.6" text-anchor="end" fill="#222"  stroke="#222" stroke-width="0.18">4</text>
<line x1="50.5" y1="464.7" x2="52.7" y2="464.7" stroke="#111" stroke-width="1"/>
<text x="49.2" y="467.2" font-size="7.6" text-anchor="end" fill="#222"  stroke="#222" stroke-width="0.18">2</text>
<line x1="50.5" y1="480.3" x2="52.7" y2="480.3" stroke="#111" stroke-width="1"/>
<text x="49.2" y="482.8" font-size="7.6" text-anchor="end" fill="#222"  stroke="#222" stroke-width="0.18">0</text>
<line x1="51.2" y1="381.5" x2="52.7" y2="381.5" stroke="#111" stroke-width="0.8"/>
<line x1="51.2" y1="415" x2="52.7" y2="415" stroke="#111" stroke-width="0.8"/>
<line x1="52.7" y1="480.3" x2="226.4" y2="480.3" stroke="#111" stroke-width="1.1"/>
<line x1="68.2" y1="480.3" x2="68.2" y2="482.6" stroke="#111" stroke-width="1"/>
<line x1="92.3" y1="480.3" x2="92.3" y2="482.6" stroke="#111" stroke-width="1"/>
<line x1="139.4" y1="480.3" x2="139.4" y2="482.6" stroke="#111" stroke-width="1"/>
<line x1="162.8" y1="480.3" x2="162.8" y2="482.6" stroke="#111" stroke-width="1"/>
<line x1="186.8" y1="480.3" x2="186.8" y2="482.6" stroke="#111" stroke-width="1"/>
<line x1="210.5" y1="480.3" x2="210.5" y2="482.6" stroke="#111" stroke-width="1"/>
<text font-size="10" fill="#1a1a1a" stroke="#1a1a1a" stroke-width="0.2" text-anchor="middle" transform="translate(33.8,420.6) rotate(-90)" textLength="128.5" lengthAdjust="spacingAndGlyphs">Abdominal metastases (score)</text>
<path d="M69.1,465.5 V468.5 M67.1,465.5 H71.1 M67.1,468.5 H71.1 M61.699999999999996,467 H76.5" stroke="#999" stroke-width="0.9" fill="none" />
<circle cx="69.1" cy="464.4" r="1.6" fill="#aaaaaa"/>
<circle cx="65.5" cy="467.6" r="1.6" fill="#aaaaaa"/>
<circle cx="72.3" cy="467.6" r="1.6" fill="#aaaaaa"/>
<circle cx="69.1" cy="468.8" r="1.6" fill="#aaaaaa"/>
<circle cx="88.8" cy="440.5" r="1.8" fill="#dd1111"/>
<circle cx="96.2" cy="440.5" r="1.8" fill="#dd1111"/>
<circle cx="92.6" cy="443.6" r="1.7" fill="#e3a55e"/>
<circle cx="92.6" cy="456.4" r="1.7" fill="#e3a55e"/>
<path d="M92.5,441.5 V449.2 M88.8,441.5 H96.2 M88.8,449.2 H96.2 M84.55,445.4 H100.45" stroke="#ec5a2a" stroke-width="1.0" fill="none" />
<path d="M139.6,410.4 V425.3 M136.25,410.4 H142.95 M136.25,425.3 H142.95 M131.9,418.1 H147.29999999999998" stroke="#111" stroke-width="1.1" fill="none" />
<circle cx="139.5" cy="376.8" r="1.85" fill="#111"/>
<circle cx="139.5" cy="402" r="1.85" fill="#111"/>
<circle cx="139.5" cy="406.2" r="1.85" fill="#111"/>
<circle cx="139.5" cy="422.7" r="1.85" fill="#111"/>
<circle cx="136.1" cy="431.4" r="1.85" fill="#111"/>
<circle cx="143.4" cy="431.4" r="1.85" fill="#111"/>
<circle cx="143.4" cy="435.4" r="1.85" fill="#111"/>
<circle cx="136.1" cy="438" r="1.85" fill="#111"/>
<path d="M163.7,383.2 V394.4 M160.1,383.2 H167.29999999999998 M160.1,394.4 H167.29999999999998 M156.2,389.2 H171.2" stroke="#1212e6" stroke-width="1.1" fill="none" />
<circle cx="163.2" cy="372.9" r="1.85" fill="#1212e6"/>
<circle cx="159.4" cy="376.8" r="1.85" fill="#1212e6"/>
<circle cx="167" cy="376.8" r="1.85" fill="#1212e6"/>
<circle cx="163.2" cy="380.9" r="1.85" fill="#1212e6"/>
<circle cx="159.4" cy="389.2" r="1.85" fill="#1212e6"/>
<circle cx="167" cy="389.2" r="1.85" fill="#1212e6"/>
<circle cx="163.2" cy="410" r="1.85" fill="#1212e6"/>
<circle cx="163.2" cy="414.4" r="1.85" fill="#1212e6"/>
<path d="M186.8,407.5 V422.3 M183.15,407.5 H190.45000000000002 M183.15,422.3 H190.45000000000002 M178.85000000000002,414.6 H194.75" stroke="#f0a050" stroke-width="1.1" fill="none" />
<circle cx="186.8" cy="393.7" r="1.85" fill="#e3a55e"/>
<circle cx="181.1" cy="406.4" r="1.85" fill="#e3a55e"/>
<circle cx="186.8" cy="406.4" r="1.85" fill="#e3a55e"/>
<circle cx="193" cy="406.4" r="1.85" fill="#e3a55e"/>
<circle cx="186.8" cy="431.2" r="1.85" fill="#e3a55e"/>
<circle cx="186.8" cy="444.5" r="1.85" fill="#e3a55e"/>
<path d="M210.3,451.8 V459.9 M207.0,451.8 H213.60000000000002 M207.0,459.9 H213.60000000000002 M202.55,455.8 H218.05" stroke="#dd1111" stroke-width="1.1" fill="none" />
<circle cx="206.6" cy="440.3" r="1.85" fill="#dd1111"/>
<circle cx="214" cy="440.3" r="1.85" fill="#dd1111"/>
<circle cx="210.2" cy="444.5" r="1.85" fill="#dd1111"/>
<circle cx="206.6" cy="455.8" r="1.85" fill="#dd1111"/>
<circle cx="214" cy="455.8" r="1.85" fill="#dd1111"/>
<circle cx="210.2" cy="460.4" r="1.85" fill="#dd1111"/>
<circle cx="210.2" cy="468.4" r="1.85" fill="#dd1111"/>
<circle cx="210.2" cy="480" r="1.85" fill="#dd1111"/>
<text x="139.4" y="491.8" font-size="8.6" text-anchor="middle" font-weight="bold" fill="#111"  stroke="#111" stroke-width="0.12">19</text>
<text x="162.3" y="491.8" font-size="8.6" text-anchor="middle" font-weight="bold" fill="#111"  stroke="#111" stroke-width="0.12">33</text>
<text x="186.8" y="491.8" font-size="8.6" text-anchor="middle" font-weight="bold" fill="#111"  stroke="#111" stroke-width="0.12">67</text>
<text x="210.7" y="491.8" font-size="8.6" text-anchor="middle" font-weight="bold" fill="#111"  stroke="#111" stroke-width="0.12">68</text>
<text x="139.4" y="499.9" font-size="7.0" text-anchor="middle" textLength="21.03" lengthAdjust="spacingAndGlyphs" fill="#333"  stroke="#333" stroke-width="0.18">(12&#8211;36)</text>
<text x="162.3" y="499.9" font-size="7.0" text-anchor="middle" textLength="21.03" lengthAdjust="spacingAndGlyphs" fill="#333"  stroke="#333" stroke-width="0.18">(22&#8211;47)</text>
<text x="186.8" y="499.9" font-size="7.0" text-anchor="middle" textLength="21.03" lengthAdjust="spacingAndGlyphs" fill="#333"  stroke="#333" stroke-width="0.18">(61&#8211;72)</text>
<text x="210.7" y="499.9" font-size="7.0" text-anchor="middle" textLength="24.42" lengthAdjust="spacingAndGlyphs" fill="#333"  stroke="#333" stroke-width="0.18">(61&#8211;156)</text>
<text x="233" y="491.8" font-size="8.6" text-anchor="start" font-weight="bold" textLength="19.4" lengthAdjust="spacingAndGlyphs" fill="#111"  stroke="#111" stroke-width="0.12">MST</text>
<text x="230.4" y="499.8" font-size="7.4" text-anchor="start" textLength="24.3" lengthAdjust="spacingAndGlyphs" fill="#333"  stroke="#333" stroke-width="0.18">(range)</text>
<text x="228.2" y="480.6" font-size="6.3" text-anchor="start" fill="#333"  stroke="#333" stroke-width="0.18">Days</text>
<text x="68.2" y="491.9" font-size="8.6" text-anchor="middle" font-weight="bold" fill="#111"  stroke="#111" stroke-width="0.12">0</text>
<text x="92.3" y="491.9" font-size="8.6" text-anchor="middle" font-weight="bold" fill="#111"  stroke="#111" stroke-width="0.12">56</text>
<text x="79" y="501" font-size="7.5" text-anchor="middle" font-weight="bold" textLength="44" lengthAdjust="spacingAndGlyphs" fill="#111"  stroke="#111" stroke-width="0.12">At treatment</text>
<text x="78" y="509.4" font-size="7.5" text-anchor="middle" font-weight="bold" textLength="44" lengthAdjust="spacingAndGlyphs" fill="#111"  stroke="#111" stroke-width="0.12">START&#160;&#160;&#160;END</text>
<text x="268.3" y="356.8" font-size="14" text-anchor="start" font-weight="bold" textLength="8.7" lengthAdjust="spacingAndGlyphs" fill="#111" stroke="#111" stroke-width="0.35">F</text>
<path d="M346.3,351.3 V348.1 H464 V352.1" stroke="#777" stroke-width="0.9" fill="none" />
<text x="404.2" y="346" font-size="8.6" text-anchor="middle" font-weight="bold" fill="#111"  stroke="#111" stroke-width="0.12">ns</text>
<path d="M346.3,362.1 V358.1 H374.5 V362.1" stroke="#777" stroke-width="0.9" fill="none" />
<polygon points="354.85,352.00 355.41,353.28 356.80,353.42 355.75,354.34 356.05,355.71 354.85,355.00 353.65,355.71 353.95,354.34 352.90,353.42 354.29,353.28" fill="#151515" stroke="#151515" stroke-width="0.35" stroke-linejoin="round"/>
<polygon points="360.20,352.00 360.76,353.28 362.15,353.42 361.10,354.34 361.40,355.71 360.20,355.00 359.00,355.71 359.30,354.34 358.25,353.42 359.64,353.28" fill="#151515" stroke="#151515" stroke-width="0.35" stroke-linejoin="round"/>
<polygon points="365.55,352.00 366.11,353.28 367.50,353.42 366.45,354.34 366.75,355.71 365.55,355.00 364.35,355.71 364.65,354.34 363.60,353.42 364.99,353.28" fill="#151515" stroke="#151515" stroke-width="0.35" stroke-linejoin="round"/>
<path d="M377.5,362.2 V358.2 H465.6 V362.9" stroke="#777" stroke-width="0.9" fill="none" />
<polygon points="415.05,351.80 415.61,353.08 417.00,353.22 415.95,354.14 416.25,355.51 415.05,354.80 413.85,355.51 414.15,354.14 413.10,353.22 414.49,353.08" fill="#151515" stroke="#151515" stroke-width="0.35" stroke-linejoin="round"/>
<polygon points="420.40,351.80 420.96,353.08 422.35,353.22 421.30,354.14 421.60,355.51 420.40,354.80 419.20,355.51 419.50,354.14 418.45,353.22 419.84,353.08" fill="#151515" stroke="#151515" stroke-width="0.35" stroke-linejoin="round"/>
<polygon points="425.75,351.80 426.31,353.08 427.70,353.22 426.65,354.14 426.95,355.51 425.75,354.80 424.55,355.51 424.85,354.14 423.80,353.22 425.19,353.08" fill="#151515" stroke="#151515" stroke-width="0.35" stroke-linejoin="round"/>
<line x1="326.1" y1="364.1" x2="326.1" y2="375.5" stroke="#111" stroke-width="1.1"/>
<line x1="326.1" y1="377.5" x2="326.1" y2="479.5" stroke="#111" stroke-width="1.1"/>
<path d="M323.70000000000005,375.5 H328.5 M323.70000000000005,377.5 H328.5" stroke="#111" stroke-width="1" fill="none" />
<line x1="323.90000000000003" y1="364.1" x2="326.1" y2="364.1" stroke="#111" stroke-width="1"/>
<text x="322.6" y="366.6" font-size="7.6" text-anchor="end" fill="#222"  stroke="#222" stroke-width="0.18">20</text>
<line x1="323.90000000000003" y1="375.5" x2="326.1" y2="375.5" stroke="#111" stroke-width="1"/>
<text x="322.6" y="378.0" font-size="7.6" text-anchor="end" fill="#222"  stroke="#222" stroke-width="0.18">15</text>
<line x1="323.90000000000003" y1="385.9" x2="326.1" y2="385.9" stroke="#111" stroke-width="1"/>
<text x="322.6" y="388.4" font-size="7.6" text-anchor="end" fill="#222"  stroke="#222" stroke-width="0.18">12</text>
<line x1="323.90000000000003" y1="401.2" x2="326.1" y2="401.2" stroke="#111" stroke-width="1"/>
<text x="322.6" y="403.7" font-size="7.6" text-anchor="end" fill="#222"  stroke="#222" stroke-width="0.18">10</text>
<line x1="323.90000000000003" y1="416.8" x2="326.1" y2="416.8" stroke="#111" stroke-width="1"/>
<text x="322.6" y="419.3" font-size="7.6" text-anchor="end" fill="#222"  stroke="#222" stroke-width="0.18">8</text>
<line x1="323.90000000000003" y1="432.5" x2="326.1" y2="432.5" stroke="#111" stroke-width="1"/>
<text x="322.6" y="435.0" font-size="7.6" text-anchor="end" fill="#222"  stroke="#222" stroke-width="0.18">6</text>
<line x1="323.90000000000003" y1="448.2" x2="326.1" y2="448.2" stroke="#111" stroke-width="1"/>
<text x="322.6" y="450.7" font-size="7.6" text-anchor="end" fill="#222"  stroke="#222" stroke-width="0.18">4</text>
<line x1="323.90000000000003" y1="463.9" x2="326.1" y2="463.9" stroke="#111" stroke-width="1"/>
<text x="322.6" y="466.4" font-size="7.6" text-anchor="end" fill="#222"  stroke="#222" stroke-width="0.18">2</text>
<line x1="323.90000000000003" y1="479.5" x2="326.1" y2="479.5" stroke="#111" stroke-width="1"/>
<text x="322.6" y="482.0" font-size="7.6" text-anchor="end" fill="#222"  stroke="#222" stroke-width="0.18">0</text>
<line x1="326.1" y1="479.5" x2="485.5" y2="479.5" stroke="#111" stroke-width="1.1"/>
<line x1="346" y1="479.5" x2="346" y2="481.8" stroke="#111" stroke-width="1"/>
<line x1="375.8" y1="479.5" x2="375.8" y2="481.8" stroke="#111" stroke-width="1"/>
<line x1="406.1" y1="479.5" x2="406.1" y2="481.8" stroke="#111" stroke-width="1"/>
<line x1="435.9" y1="479.5" x2="435.9" y2="481.8" stroke="#111" stroke-width="1"/>
<line x1="465.7" y1="479.5" x2="465.7" y2="481.8" stroke="#111" stroke-width="1"/>
<text font-size="10" fill="#1a1a1a" stroke="#1a1a1a" stroke-width="0.2" text-anchor="middle" transform="translate(301.7,420.5) rotate(-90)" textLength="128.5" lengthAdjust="spacingAndGlyphs">Abdominal metastases (score)</text>
<path d="M346,448.5 V450.5 M344.0,448.5 H348.0 M344.0,450.5 H348.0 M336.05,449.6 H355.95" stroke="#999" stroke-width="0.9" fill="none" />
<circle cx="342.9" cy="448.1" r="1.7" fill="#aaaaaa"/>
<circle cx="349.7" cy="448.1" r="1.7" fill="#aaaaaa"/>
<circle cx="346" cy="452.2" r="1.7" fill="#aaaaaa"/>
<path d="M376.3,383.8 V403.8 M371.95,383.8 H380.65000000000003 M371.95,403.8 H380.65000000000003 M366.65000000000003,393.8 H385.95" stroke="#111" stroke-width="1.1" fill="none" />
<circle cx="375.8" cy="367.5" r="1.85" fill="#111"/>
<circle cx="372" cy="393.3" r="1.85" fill="#111"/>
<circle cx="380" cy="393.3" r="1.85" fill="#111"/>
<circle cx="372" cy="404.5" r="1.85" fill="#111"/>
<circle cx="380" cy="405.5" r="1.85" fill="#111"/>
<circle cx="375.8" cy="408.8" r="1.85" fill="#111"/>
<circle cx="375.8" cy="416.8" r="1.85" fill="#111"/>
<path d="M406.2,422.4 V432.4 M402.05,422.4 H410.34999999999997 M402.05,432.4 H410.34999999999997 M396.4,427.2 H416.0" stroke="#1212e6" stroke-width="1.1" fill="none" />
<circle cx="406.1" cy="401.2" r="1.85" fill="#1212e6"/>
<circle cx="403" cy="423.7" r="1.85" fill="#1212e6"/>
<circle cx="409.4" cy="423.7" r="1.85" fill="#1212e6"/>
<circle cx="403" cy="427.2" r="1.85" fill="#1212e6"/>
<circle cx="409.4" cy="427.2" r="1.85" fill="#1212e6"/>
<circle cx="406.1" cy="436.4" r="1.85" fill="#1212e6"/>
<circle cx="406.1" cy="448.5" r="1.85" fill="#1212e6"/>
<path d="M436.7,427.2 V442.8 M432.4,427.2 H441.0 M432.4,442.8 H441.0 M426.59999999999997,435.3 H446.8" stroke="#f0a050" stroke-width="1.1" fill="none" />
<circle cx="435.8" cy="404.7" r="1.85" fill="#e3a55e"/>
<circle cx="435.8" cy="412.8" r="1.85" fill="#e3a55e"/>
<circle cx="435.8" cy="428.4" r="1.85" fill="#e3a55e"/>
<circle cx="435.8" cy="440.5" r="1.85" fill="#e3a55e"/>
<circle cx="435.8" cy="444" r="1.85" fill="#e3a55e"/>
<circle cx="435.8" cy="456.1" r="1.85" fill="#e3a55e"/>
<circle cx="435.8" cy="460.1" r="1.85" fill="#e3a55e"/>
<path d="M466.2,434.1 V452.6 M461.34999999999997,434.1 H471.05 M461.34999999999997,452.6 H471.05 M456.25,443.3 H476.15" stroke="#dd1111" stroke-width="1.1" fill="none" />
<circle cx="466.1" cy="428.4" r="1.85" fill="#dd1111"/>
<circle cx="466.1" cy="432.4" r="1.85" fill="#dd1111"/>
<circle cx="466.1" cy="436.4" r="1.85" fill="#dd1111"/>
<circle cx="466.1" cy="440.5" r="1.85" fill="#dd1111"/>
<circle cx="466.1" cy="479.6" r="1.85" fill="#dd1111"/>
<text x="375.7" y="490.9" font-size="8.6" text-anchor="middle" font-weight="bold" fill="#111"  stroke="#111" stroke-width="0.12">17</text>
<text x="406.1" y="490.9" font-size="8.6" text-anchor="middle" font-weight="bold" fill="#111"  stroke="#111" stroke-width="0.12">16</text>
<text x="436" y="490.9" font-size="8.6" text-anchor="middle" font-weight="bold" fill="#111"  stroke="#111" stroke-width="0.12">16</text>
<text x="465.6" y="490.9" font-size="8.6" text-anchor="middle" font-weight="bold" fill="#111"  stroke="#111" stroke-width="0.12">63</text>
<text x="375.7" y="500.0" font-size="7.0" text-anchor="middle" textLength="20.57" lengthAdjust="spacingAndGlyphs" fill="#333"  stroke="#333" stroke-width="0.18">(11&#8211;30)</text>
<text x="406.1" y="500.0" font-size="7.0" text-anchor="middle" textLength="20.57" lengthAdjust="spacingAndGlyphs" fill="#333"  stroke="#333" stroke-width="0.18">(11&#8211;21)</text>
<text x="436" y="500.0" font-size="7.0" text-anchor="middle" textLength="21.03" lengthAdjust="spacingAndGlyphs" fill="#333"  stroke="#333" stroke-width="0.18">(10&#8211;71)</text>
<text x="465.6" y="500.0" font-size="7.0" text-anchor="middle" textLength="24.42" lengthAdjust="spacingAndGlyphs" fill="#333"  stroke="#333" stroke-width="0.18">(56&#8211;156)</text>
<text x="485.8" y="490.9" font-size="8.6" text-anchor="start" font-weight="bold" textLength="19.4" lengthAdjust="spacingAndGlyphs" fill="#111"  stroke="#111" stroke-width="0.12">MST</text>
<text x="483.7" y="499.90000000000003" font-size="7.4" text-anchor="start" textLength="24.3" lengthAdjust="spacingAndGlyphs" fill="#333"  stroke="#333" stroke-width="0.18">(range)</text>
<text x="487.2" y="478.4" font-size="6.3" text-anchor="start" fill="#333"  stroke="#333" stroke-width="0.18">Days</text>
<text x="346" y="491.9" font-size="8.6" text-anchor="middle" font-weight="bold" fill="#111"  stroke="#111" stroke-width="0.12">0</text>
<text x="348.8" y="499.3" font-size="7.5" text-anchor="end" font-weight="bold" textLength="44" lengthAdjust="spacingAndGlyphs" fill="#111"  stroke="#111" stroke-width="0.12">At treatment</text>
<text x="348.8" y="507.4" font-size="7.5" text-anchor="end" font-weight="bold" textLength="23.4" lengthAdjust="spacingAndGlyphs" fill="#111"  stroke="#111" stroke-width="0.12">START</text>
<text x="9.1" y="530.1" font-size="14" text-anchor="start" font-weight="bold" textLength="11.4" lengthAdjust="spacingAndGlyphs" fill="#111" stroke="#111" stroke-width="0.35">G</text>
<line x1="57.5" y1="534.6" x2="57.5" y2="673.2" stroke="#c4c4c4" stroke-width="1.2"/>
<rect x="56.1" y="561.9" width="2.8" height="3" fill="#d0d0d0"/>
<line x1="55.6" y1="540.4" x2="57.5" y2="540.4" stroke="#c4c4c4" stroke-width="1"/>
<text x="55.5" y="542.9" font-size="7.1" text-anchor="end" fill="#333"  stroke="#333" stroke-width="0.18">200</text>
<line x1="55.6" y1="598" x2="57.5" y2="598" stroke="#c4c4c4" stroke-width="1"/>
<text x="55.5" y="600.5" font-size="7.1" text-anchor="end" fill="#333"  stroke="#333" stroke-width="0.18">100</text>
<line x1="55.6" y1="635.2" x2="57.5" y2="635.2" stroke="#c4c4c4" stroke-width="1"/>
<text x="55.5" y="637.7" font-size="7.1" text-anchor="end" fill="#333"  stroke="#333" stroke-width="0.18">50</text>
<line x1="55.6" y1="673.2" x2="57.5" y2="673.2" stroke="#c4c4c4" stroke-width="1"/>
<text x="55.5" y="675.7" font-size="7.1" text-anchor="end" fill="#333"  stroke="#333" stroke-width="0.18">0</text>
<line x1="57.5" y1="673.2" x2="335.4" y2="673.2" stroke="#c4c4c4" stroke-width="1.2"/>
<line x1="334.9" y1="534.2" x2="334.9" y2="673.2" stroke="#c4c4c4" stroke-width="1.2"/>
<path d="M333.3,535 Q334.2,534.2 334.9,534.2" stroke="#c4c4c4" stroke-width="1" fill="none" />
<text x="338.9" y="537.5999999999999" font-size="6.4" text-anchor="start" fill="#333"  stroke="#333" stroke-width="0.18">100</text>
<text x="338.9" y="572.0999999999999" font-size="6.4" text-anchor="start" fill="#333"  stroke="#333" stroke-width="0.18">10</text>
<text x="338.9" y="606.5" font-size="6.4" text-anchor="start" fill="#333"  stroke="#333" stroke-width="0.18">1</text>
<text x="338.9" y="640.9" font-size="6.4" text-anchor="start" fill="#333"  stroke="#333" stroke-width="0.18">0.1</text>
<text x="338.9" y="675.1999999999999" font-size="6.4" text-anchor="start" fill="#333"  stroke="#333" stroke-width="0.18">0.01</text>
<line x1="334.9" y1="559.3445681491589" x2="336.0" y2="559.3445681491589" stroke="#d8d8d8" stroke-width="0.6"/>
<line x1="334.9" y1="553.2870288376436" x2="336.0" y2="553.2870288376436" stroke="#d8d8d8" stroke-width="0.6"/>
<line x1="334.9" y1="548.989136298318" x2="336.0" y2="548.989136298318" stroke="#d8d8d8" stroke-width="0.6"/>
<line x1="334.9" y1="545.6554318508408" x2="336.0" y2="545.6554318508408" stroke="#d8d8d8" stroke-width="0.6"/>
<line x1="334.9" y1="542.9315969868026" x2="336.0" y2="542.9315969868026" stroke="#d8d8d8" stroke-width="0.6"/>
<line x1="334.9" y1="540.6286274235094" x2="336.0" y2="540.6286274235094" stroke="#d8d8d8" stroke-width="0.6"/>
<line x1="334.9" y1="538.633704447477" x2="336.0" y2="538.633704447477" stroke="#d8d8d8" stroke-width="0.6"/>
<line x1="334.9" y1="536.8740576752872" x2="336.0" y2="536.8740576752872" stroke="#d8d8d8" stroke-width="0.6"/>
<line x1="334.9" y1="593.7445681491589" x2="336.0" y2="593.7445681491589" stroke="#d8d8d8" stroke-width="0.6"/>
<line x1="334.9" y1="587.6870288376435" x2="336.0" y2="587.6870288376435" stroke="#d8d8d8" stroke-width="0.6"/>
<line x1="334.9" y1="583.389136298318" x2="336.0" y2="583.389136298318" stroke="#d8d8d8" stroke-width="0.6"/>
<line x1="334.9" y1="580.0554318508408" x2="336.0" y2="580.0554318508408" stroke="#d8d8d8" stroke-width="0.6"/>
<line x1="334.9" y1="577.3315969868025" x2="336.0" y2="577.3315969868025" stroke="#d8d8d8" stroke-width="0.6"/>
<line x1="334.9" y1="575.0286274235095" x2="336.0" y2="575.0286274235095" stroke="#d8d8d8" stroke-width="0.6"/>
<line x1="334.9" y1="573.033704447477" x2="336.0" y2="573.033704447477" stroke="#d8d8d8" stroke-width="0.6"/>
<line x1="334.9" y1="571.2740576752872" x2="336.0" y2="571.2740576752872" stroke="#d8d8d8" stroke-width="0.6"/>
<line x1="334.9" y1="628.1445681491589" x2="336.0" y2="628.1445681491589" stroke="#d8d8d8" stroke-width="0.6"/>
<line x1="334.9" y1="622.0870288376435" x2="336.0" y2="622.0870288376435" stroke="#d8d8d8" stroke-width="0.6"/>
<line x1="334.9" y1="617.789136298318" x2="336.0" y2="617.789136298318" stroke="#d8d8d8" stroke-width="0.6"/>
<line x1="334.9" y1="614.4554318508408" x2="336.0" y2="614.4554318508408" stroke="#d8d8d8" stroke-width="0.6"/>
<line x1="334.9" y1="611.7315969868025" x2="336.0" y2="611.7315969868025" stroke="#d8d8d8" stroke-width="0.6"/>
<line x1="334.9" y1="609.4286274235094" x2="336.0" y2="609.4286274235094" stroke="#d8d8d8" stroke-width="0.6"/>
<line x1="334.9" y1="607.433704447477" x2="336.0" y2="607.433704447477" stroke="#d8d8d8" stroke-width="0.6"/>
<line x1="334.9" y1="605.6740576752871" x2="336.0" y2="605.6740576752871" stroke="#d8d8d8" stroke-width="0.6"/>
<line x1="334.9" y1="662.544568149159" x2="336.0" y2="662.544568149159" stroke="#d8d8d8" stroke-width="0.6"/>
<line x1="334.9" y1="656.4870288376436" x2="336.0" y2="656.4870288376436" stroke="#d8d8d8" stroke-width="0.6"/>
<line x1="334.9" y1="652.1891362983181" x2="336.0" y2="652.1891362983181" stroke="#d8d8d8" stroke-width="0.6"/>
<line x1="334.9" y1="648.8554318508409" x2="336.0" y2="648.8554318508409" stroke="#d8d8d8" stroke-width="0.6"/>
<line x1="334.9" y1="646.1315969868026" x2="336.0" y2="646.1315969868026" stroke="#d8d8d8" stroke-width="0.6"/>
<line x1="334.9" y1="643.8286274235095" x2="336.0" y2="643.8286274235095" stroke="#d8d8d8" stroke-width="0.6"/>
<line x1="334.9" y1="641.8337044474771" x2="336.0" y2="641.8337044474771" stroke="#d8d8d8" stroke-width="0.6"/>
<line x1="334.9" y1="640.0740576752872" x2="336.0" y2="640.0740576752872" stroke="#d8d8d8" stroke-width="0.6"/>
<text font-size="9.7" fill="#2828d8" stroke="#2828d8" stroke-width="0.2" text-anchor="middle" transform="translate(358.8,611.6) rotate(90)" textLength="132" lengthAdjust="spacingAndGlyphs">AZD7648 (&#956;mol/L) free plasma</text>
<text font-size="10.2" fill="#1a1a1a" stroke="#1a1a1a" stroke-width="0.2" text-anchor="middle" transform="translate(35.4,599.6) rotate(-90)" textLength="125" lengthAdjust="spacingAndGlyphs">Relative biomarker activation</text>
<rect x="79.4" y="599.4" width="13.099999999999994" height="73.80000000000007" fill="#a8a8a8" stroke="#4a4a4a" stroke-width="1.0"/>
<rect x="94.3" y="598.5" width="13.0" height="74.70000000000005" fill="#e2e2e2" stroke="#4a4a4a" stroke-width="1.0"/>
<rect x="108.9" y="598.2" width="14.199999999999989" height="75.0" fill="#ffffff" stroke="#f3a868" stroke-width="1.0"/>
<path d="M86.1,563 V637.1 M83.1,563 H89.1 M83.1,637.1 H89.1" stroke="#666" stroke-width="0.8" fill="none" />
<rect x="84.70" y="538.70" width="3.0" height="3.0" fill="#111"/>
<rect x="84.70" y="626.50" width="3.0" height="3.0" fill="#111"/>
<rect x="84.70" y="644.50" width="3.0" height="3.0" fill="#111"/>
<path d="M101.2,595.9 V600.3 M97.8,595.9 H104.60000000000001 M97.8,600.3 H104.60000000000001" stroke="#555" stroke-width="0.8" fill="none" />
<path d="M96.70,592.48 L98.50,595.72 L94.90,595.72 Z" fill="#111"/>
<path d="M96.70,600.08 L98.50,603.32 L94.90,603.32 Z" fill="#111"/>
<path d="M106.20,596.88 L108.00,600.12 L104.40,600.12 Z" fill="#111"/>
<path d="M116.2,591.1 V604.3 M113.10000000000001,591.1 H119.3 M113.10000000000001,604.3 H119.3 M116.2,598.2 H116.2" stroke="#f0a060" stroke-width="0.8" fill="none" />
<circle cx="116.3" cy="584.8" r="1.5" fill="#ef8f3f"/>
<circle cx="116.3" cy="601.7" r="1.5" fill="#ef8f3f"/>
<circle cx="116.3" cy="606.5" r="1.5" fill="#ef8f3f"/>
<rect x="147.8" y="658.8" width="13.199999999999989" height="14.400000000000091" fill="#a8a8a8" stroke="#4a4a4a" stroke-width="1.0"/>
<rect x="163.1" y="638.7" width="13.099999999999994" height="34.5" fill="#e2e2e2" stroke="#4a4a4a" stroke-width="1.0"/>
<rect x="177.9" y="618.2" width="13.699999999999989" height="55.0" fill="#ffffff" stroke="#f3a868" stroke-width="1.0"/>
<path d="M154.6,651 V665.8 M151.4,651 H157.79999999999998 M151.4,665.8 H157.79999999999998" stroke="#555" stroke-width="0.8" fill="none" />
<rect x="153.10" y="642.10" width="3.0" height="3.0" fill="#111"/>
<rect x="153.10" y="662.20" width="3.0" height="3.0" fill="#111"/>
<rect x="153.10" y="667.50" width="3.0" height="3.0" fill="#111"/>
<path d="M169.7,614.6 V662.6 M166.25,614.6 H173.14999999999998 M166.25,662.6 H173.14999999999998" stroke="#555" stroke-width="0.8" fill="none" />
<path d="M169.40,589.68 L171.20,592.92 L167.60,592.92 Z" fill="#111"/>
<path d="M169.40,655.68 L171.20,658.92 L167.60,658.92 Z" fill="#111"/>
<path d="M169.40,665.88 L171.20,669.12 L167.60,669.12 Z" fill="#111"/>
<path d="M184.6,616 V623 M182.1,616 H187.1 M182.1,623 H187.1" stroke="#f0a060" stroke-width="0.8" fill="none" />
<circle cx="184.2" cy="615.4" r="1.5" fill="#ef8f3f"/>
<circle cx="188.9" cy="612.5" r="1.5" fill="#ef8f3f"/>
<circle cx="184.2" cy="626" r="1.5" fill="#ef8f3f"/>
<rect x="216" y="610.3" width="13.800000000000011" height="62.90000000000009" fill="#a8a8a8" stroke="#4a4a4a" stroke-width="1.0"/>
<rect x="231" y="593.2" width="13.800000000000011" height="80.0" fill="#e2e2e2" stroke="#4a4a4a" stroke-width="1.0"/>
<rect x="246.3" y="664" width="13.699999999999989" height="9.200000000000045" fill="#ffffff" stroke="#f3a868" stroke-width="1.0"/>
<path d="M222.8,584.3 V636.2 M219.70000000000002,584.3 H225.9 M219.70000000000002,636.2 H225.9" stroke="#555" stroke-width="0.8" fill="none" />
<rect x="221.20" y="567.00" width="3.0" height="3.0" fill="#111"/>
<rect x="221.20" y="602.90" width="3.0" height="3.0" fill="#111"/>
<rect x="221.20" y="656.90" width="3.0" height="3.0" fill="#111"/>
<path d="M237.8,588 V598 M234.60000000000002,588 H241.0 M234.60000000000002,598 H241.0" stroke="#555" stroke-width="0.8" fill="none" />
<path d="M233.10,584.18 L234.90,587.42 L231.30,587.42 Z" fill="#111"/>
<path d="M242.70,587.98 L244.50,591.22 L240.90,591.22 Z" fill="#111"/>
<path d="M237.40,602.38 L239.20,605.62 L235.60,605.62 Z" fill="#111"/>
<path d="M253.2,661.5 V667.5 M250.2,661.5 H256.2 M250.2,667.5 H256.2" stroke="#f0a060" stroke-width="0.8" fill="none" />
<circle cx="248.4" cy="659.4" r="1.5" fill="#ef8f3f"/>
<circle cx="257.5" cy="660.5" r="1.5" fill="#ef8f3f"/>
<circle cx="253.2" cy="671" r="1.5" fill="#ef8f3f"/>
<rect x="284.2" y="666.7" width="13.199999999999989" height="6.5" fill="#a8a8a8" stroke="#4a4a4a" stroke-width="1.0"/>
<rect x="299.4" y="666.4" width="13.0" height="6.800000000000068" fill="#e2e2e2" stroke="#4a4a4a" stroke-width="1.0"/>
<rect x="314.4" y="667.2" width="13.5" height="6.0" fill="#ffffff" stroke="#f3a868" stroke-width="1.0"/>
<path d="M290.8,665 V668.5 M288.3,665 H293.3 M288.3,668.5 H293.3" stroke="#555" stroke-width="0.8" fill="none" />
<rect x="288.00" y="663.20" width="3.0" height="3.0" fill="#111"/>
<rect x="284.70" y="665.70" width="3.0" height="3.0" fill="#111"/>
<rect x="292.20" y="665.70" width="3.0" height="3.0" fill="#111"/>
<path d="M305.9,663.8 V668.5 M302.9,663.8 H308.9 M302.9,668.5 H308.9" stroke="#555" stroke-width="0.8" fill="none" />
<path d="M301.90,661.78 L303.70,665.02 L300.10,665.02 Z" fill="#111"/>
<path d="M309.40,663.08 L311.20,666.32 L307.60,666.32 Z" fill="#111"/>
<path d="M306.20,669.28 L308.00,672.52 L304.40,672.52 Z" fill="#111"/>
<path d="M321.1,663 V670 M318.6,663 H323.6 M318.6,670 H323.6" stroke="#f0a060" stroke-width="0.8" fill="none" />
<circle cx="321.1" cy="661.7" r="1.5" fill="#ef8f3f"/>
<circle cx="321.1" cy="666.7" r="1.5" fill="#ef8f3f"/>
<circle cx="321.1" cy="670.9" r="1.5" fill="#ef8f3f"/>
<path d="M179.8,567.6 L184.4,570.0 L189.3,567.8" stroke="#2a2ad0" stroke-width="0.9" fill="none" />
<path d="M177.50,564.50 L182.10,569.10 M182.10,564.50 L177.50,569.10" stroke="#1c1cc0" stroke-width="1.35" fill="none" />
<path d="M182.10,568.00 L186.70,572.60 M186.70,568.00 L182.10,572.60" stroke="#1c1cc0" stroke-width="1.35" fill="none" />
<path d="M187.00,565.10 L191.60,569.70 M191.60,565.10 L187.00,569.70" stroke="#1c1cc0" stroke-width="1.35" fill="none" />
<line x1="314" y1="570.3" x2="328" y2="570.3" stroke="#a0a0c8" stroke-width="0.8"/>
<line x1="317" y1="574.5" x2="323.5" y2="574.5" stroke="#c8c8e0" stroke-width="0.6"/>
<path d="M318.70,561.90 L323.30,566.50 M323.30,561.90 L318.70,566.50" stroke="#1c1cb8" stroke-width="1.35" fill="none" />
<path d="M318.80,565.20 L323.20,569.60 M323.20,565.20 L318.80,569.60" stroke="#1c1cb8" stroke-width="1.2" fill="none" />
<path d="M318.70,568.10 L323.30,572.70 M323.30,568.10 L318.70,572.70" stroke="#1c1cb8" stroke-width="1.35" fill="none" />
<path d="M318.70,576.10 L323.30,580.70 M323.30,576.10 L318.70,580.70" stroke="#1c1cb8" stroke-width="1.35" fill="none" />
<path d="M116.6,517.7 V514.5 H320.8 V517.7" stroke="#7a7a7a" stroke-width="0.9" fill="none" />
<polygon points="211.30,509.00 211.86,510.28 213.25,510.42 212.20,511.34 212.50,512.71 211.30,512.00 210.10,512.71 210.40,511.34 209.35,510.42 210.74,510.28" fill="#151515" stroke="#151515" stroke-width="0.35" stroke-linejoin="round"/>
<polygon points="217.10,509.00 217.66,510.28 219.05,510.42 218.00,511.34 218.30,512.71 217.10,512.00 215.90,512.71 216.20,511.34 215.15,510.42 216.54,510.28" fill="#151515" stroke="#151515" stroke-width="0.35" stroke-linejoin="round"/>
<path d="M117.2,525.4 V522.4 H254.7 V525.4" stroke="#7a7a7a" stroke-width="0.9" fill="none" />
<polygon points="180.60,518.00 181.16,519.28 182.55,519.42 181.50,520.34 181.80,521.71 180.60,521.00 179.40,521.71 179.70,520.34 178.65,519.42 180.04,519.28" fill="#151515" stroke="#151515" stroke-width="0.35" stroke-linejoin="round"/>
<polygon points="186.40,518.00 186.96,519.28 188.35,519.42 187.30,520.34 187.60,521.71 186.40,521.00 185.20,521.71 185.50,520.34 184.45,519.42 185.84,519.28" fill="#151515" stroke="#151515" stroke-width="0.35" stroke-linejoin="round"/>
<path d="M86.2,536 V533 H152.7 V536" stroke="#7a7a7a" stroke-width="0.9" fill="none" />
<polygon points="111.80,526.70 112.36,527.98 113.75,528.12 112.70,529.04 113.00,530.41 111.80,529.70 110.60,530.41 110.90,529.04 109.85,528.12 111.24,527.98" fill="#151515" stroke="#151515" stroke-width="0.35" stroke-linejoin="round"/>
<path d="M222.4,536 V533 H289 V536" stroke="#7a7a7a" stroke-width="0.9" fill="none" />
<polygon points="260.30,526.40 260.86,527.68 262.25,527.82 261.20,528.74 261.50,530.11 260.30,529.40 259.10,530.11 259.40,528.74 258.35,527.82 259.74,527.68" fill="#151515" stroke="#151515" stroke-width="0.35" stroke-linejoin="round"/>
<path d="M101.5,576.6 V573.4 H168.9 V576.6" stroke="#7a7a7a" stroke-width="0.9" fill="none" />
<polygon points="133.80,567.70 134.36,568.98 135.75,569.12 134.70,570.04 135.00,571.41 133.80,570.70 132.60,571.41 132.90,570.04 131.85,569.12 133.24,568.98" fill="#151515" stroke="#151515" stroke-width="0.35" stroke-linejoin="round"/>
<polygon points="139.20,567.70 139.76,568.98 141.15,569.12 140.10,570.04 140.40,571.41 139.20,570.70 138.00,571.41 138.30,570.04 137.25,569.12 138.64,568.98" fill="#151515" stroke="#151515" stroke-width="0.35" stroke-linejoin="round"/>
<path d="M237.4,576.3000000000001 V573.2 H304.4 V576.3000000000001" stroke="#7a7a7a" stroke-width="0.9" fill="none" />
<polygon points="265.40,567.80 265.96,569.08 267.35,569.22 266.30,570.14 266.60,571.51 265.40,570.80 264.20,571.51 264.50,570.14 263.45,569.22 264.84,569.08" fill="#151515" stroke="#151515" stroke-width="0.35" stroke-linejoin="round"/>
<polygon points="270.70,567.80 271.26,569.08 272.65,569.22 271.60,570.14 271.90,571.51 270.70,570.80 269.50,571.51 269.80,570.14 268.75,569.22 270.14,569.08" fill="#151515" stroke="#151515" stroke-width="0.35" stroke-linejoin="round"/>
<polygon points="276.00,567.80 276.56,569.08 277.95,569.22 276.90,570.14 277.20,571.51 276.00,570.80 274.80,571.51 275.10,570.14 274.05,569.22 275.44,569.08" fill="#151515" stroke="#151515" stroke-width="0.35" stroke-linejoin="round"/>
<polygon points="281.30,567.80 281.86,569.08 283.25,569.22 282.20,570.14 282.50,571.51 281.30,570.80 280.10,571.51 280.40,570.14 279.35,569.22 280.74,569.08" fill="#151515" stroke="#151515" stroke-width="0.35" stroke-linejoin="round"/>
<text x="101.5" y="684.2" font-size="8.6" text-anchor="middle" textLength="28.3" lengthAdjust="spacingAndGlyphs" fill="#222"  stroke="#222" stroke-width="0.18">Vehicle</text>
<text x="169.4" y="683.7" font-size="8.8" text-anchor="middle" textLength="37.2" lengthAdjust="spacingAndGlyphs" fill="#2a2ad8"  stroke="#2a2ad8" stroke-width="0.18">AZD7648</text>
<text x="238.5" y="684.1" font-size="8.5" text-anchor="middle" textLength="42.3" lengthAdjust="spacingAndGlyphs" fill="#f07a2a"  stroke="#f07a2a" stroke-width="0.18">OLAPARIB</text>
<text x="306.2" y="682.7" font-size="8.5" text-anchor="middle" textLength="49.9" lengthAdjust="spacingAndGlyphs" fill="#e8303a"  stroke="#e8303a" stroke-width="0.18">OLAPARIB +</text>
<text x="306" y="692.2" font-size="8.5" text-anchor="middle" textLength="36.9" lengthAdjust="spacingAndGlyphs" fill="#e8303a"  stroke="#e8303a" stroke-width="0.18">AZD7648</text>
<rect x="400.2" y="545.6" width="19.600000000000023" height="8.100000000000023" fill="#a9a9a9" stroke="#8a8a8a" stroke-width="0.8"/>
<rect x="400.2" y="561.8" width="19.600000000000023" height="8.600000000000023" fill="#dcdcdc" stroke="#9a9a9a" stroke-width="0.8"/>
<rect x="400.2" y="577.1" width="19.600000000000023" height="8.899999999999977" fill="#ffffff" stroke="#f6c49a" stroke-width="0.8"/>
<text x="405.2" y="602.5" font-size="10" text-anchor="start" font-weight="bold" textLength="7" lengthAdjust="spacingAndGlyphs" fill="#1f1fcf"  stroke="#1f1fcf" stroke-width="0.12">X</text>
<text x="424.4" y="552.8" font-size="9.6" text-anchor="start" textLength="81.6" lengthAdjust="spacingAndGlyphs" fill="#222"  stroke="#222" stroke-width="0.18">pRPA32 Ser4/Ser8</text>
<text x="424.4" y="569.7" font-size="9.6" text-anchor="start" fill="#222"  stroke="#222" stroke-width="0.18">&#947;H2AX</text>
<text x="424.4" y="584.6" font-size="9.6" text-anchor="start" fill="#222"  stroke="#222" stroke-width="0.18">Par</text>
<text x="421.7" y="602.9" font-size="9.7" text-anchor="start" textLength="56.6" lengthAdjust="spacingAndGlyphs" fill="#2a2ad8"  stroke="#2a2ad8" stroke-width="0.18">AZD7648 PK</text>
</svg></body></html>
